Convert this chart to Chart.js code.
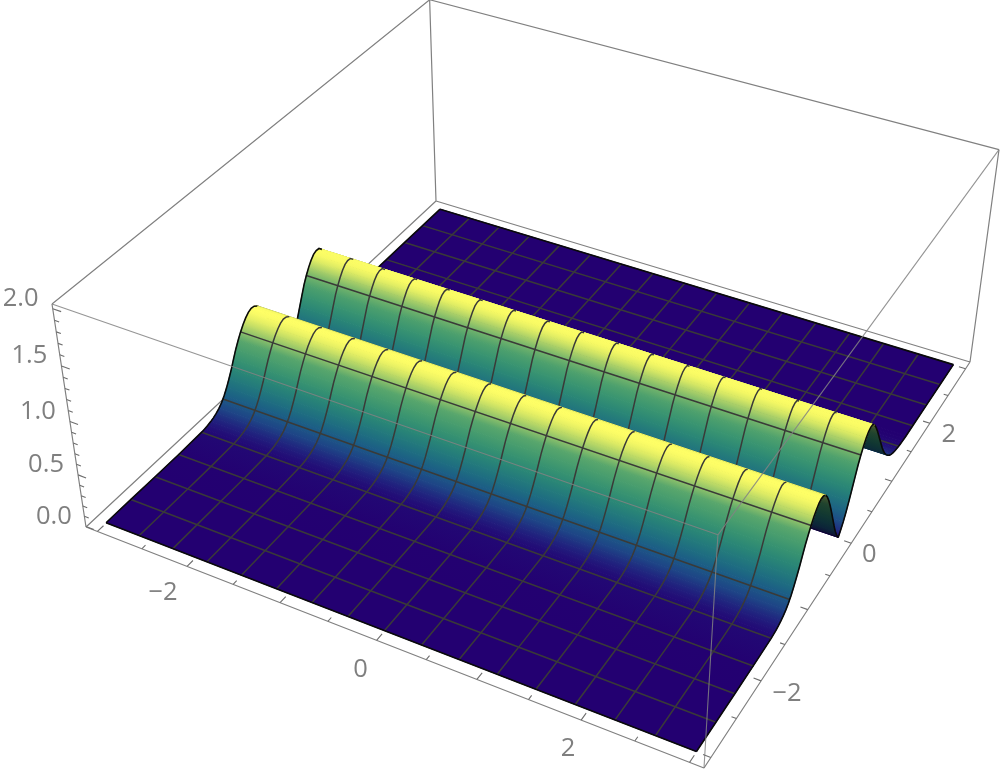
<!DOCTYPE html>
<html>
<head>
<meta charset="utf-8">
<script src="https://cdn.jsdelivr.net/npm/chart.js@4"></script>
<style>
html, body { margin: 0; padding: 0; background: #fff; }
canvas { display: block; }
</style>
</head>
<body>
<canvas id="myChart" width="1000" height="770"></canvas>
<script>
// surface profile: height for each y, the same along x
const profileY = [
  -3,-2.625,-2.25,-1.875,-1.5,-1.45,-1.4,-1.35,-1.3,-1.25,
  -1.2,-1.15,-1.125,-1.1,-1.05,-1,-0.95,-0.9,-0.85,-0.8,
  -0.75,-0.7,-0.65,-0.6,-0.55,-0.5,-0.45,-0.4,-0.35,-0.3,
  -0.25,-0.2,-0.15,-0.1,-0.05,0,0.05,0.1,0.15,0.2,
  0.25,0.3,0.35,0.4,0.45,0.5,0.55,0.6,0.65,0.7,
  0.75,0.8,0.85,0.9,0.95,1,1.05,1.1,1.15,1.2,
  1.25,1.3,1.35,1.4,1.45,1.5,1.55,1.6,1.65,1.7,
  1.875,2.25,2.625,3
];
const profileZ = [
  0,0,0,0.001,0.0075,0.011,0.017,0.026,0.038,0.055,
  0.077,0.108,0.129,0.15,0.202,0.263,0.329,0.404,0.475,0.536,
  0.592,0.639,0.677,0.705,0.719,0.714,0.691,0.644,0.578,0.498,
  0.409,0.315,0.221,0.132,0.061,0.008,0.052,0.103,0.169,0.244,
  0.329,0.414,0.498,0.564,0.62,0.667,0.7,0.714,0.71,0.677,
  0.625,0.564,0.494,0.423,0.353,0.282,0.221,0.169,0.127,0.094,
  0.066,0.047,0.033,0.023,0.015,0.009,0.006,0.003,0.001,0,
  0,0,0,0
];

// mesh lines
const xMesh = [-2.625,-2.25,-1.875,-1.5,-1.125,-0.75,-0.375,0,0.375,0.75,1.125,1.5,1.875,2.25,2.625];
const yMesh = [-2.625,-2.25,-1.875,-1.5,-1.125,-0.75,0.4,1.5,1.875,2.25,2.625];
const xEnds = [-3, 3];
const yEnds = [-3, 3];

// ticks
const xTicks = [-3,-2.5,-2,-1.5,-1,-0.5,0,0.5,1,1.5,2,2.5,3];
const yTicks = [-3,-2.5,-2,-1.5,-1,-0.5,0,0.5,1,1.5,2,2.5,3];
const zTicks = [0,0.1,0.2,0.3,0.4,0.5,0.6,0.7,0.8,0.9,1,1.1,1.2,1.3,1.4,1.5,1.6,1.7,1.8,1.9,2];
const xLabels = [-2, 0, 2];
const yLabels = [-2, 0, 2];
const zLabels = [0, 0.5, 1, 1.5, 2];

// box limits
const xBox = [-3.13, 3.13];
const yBox = [-3.13, 3.13];
const zBox = [-0.005, 2.04];

// where the box corners land in the picture, used to fit the camera
const anchors = {
  floor: [[86, 527], [704, 768], [970, 362], [436, 201]],
  topA: [52, 304],
  topC: [999, 152]
};

// label nudges in pixels from the tick
const xLabelShift = [[-24, 26], [-16, 29], [-13, 29]];
const yLabelShift = [[26, 13], [18, 12], [19, 12]];
const zLabelShift = [-32, -10];

const colorStops = [
  [0, [35, 0, 113]],
  [0.04, [33, 30, 125]],
  [0.1, [30, 66, 134]],
  [0.18, [28, 88, 134]],
  [0.3, [30, 112, 128]],
  [0.5, [45, 140, 115]],
  [0.74, [85, 165, 108]],
  [0.85, [160, 202, 105]],
  [0.92, [215, 232, 100]],
  [0.97, [245, 248, 100]],
  [1, [255, 255, 102]]
];
const zTop = 0.72;

// camera: floor homography plus a column for height
function fitCamera() {
  const [A, B, C, D] = anchors.floor;
  const dx1 = B[0] - C[0], dx2 = D[0] - C[0], sx = A[0] - B[0] + C[0] - D[0];
  const dy1 = B[1] - C[1], dy2 = D[1] - C[1], sy = A[1] - B[1] + C[1] - D[1];
  const den = dx1 * dy2 - dx2 * dy1;
  const g = (sx * dy2 - dx2 * sy) / den;
  const h = (dx1 * sy - sx * dy1) / den;
  const cu = [B[0] - A[0] + g * B[0], B[1] - A[1] + g * B[1], g];
  const cv = [D[0] - A[0] + h * D[0], D[1] - A[1] + h * D[1], h];
  const c0 = [A[0], A[1], 1];
  const E = anchors.topA, G = anchors.topC;
  const s = ((g + h) * G[0] - cu[0] - cv[0]) / (E[0] - G[0]);
  const cw = [s * E[0] - c0[0], s * E[1] - c0[1], s - 1];
  return { cu, cv, cw, c0 };
}
const cam = fitCamera();

function project(x, y, z) {
  const u = (x - xBox[0]) / (xBox[1] - xBox[0]);
  const v = (y - yBox[0]) / (yBox[1] - yBox[0]);
  const w = (z - zBox[0]) / (zBox[1] - zBox[0]);
  const p = [0, 1, 2].map(i => cam.cu[i] * u + cam.cv[i] * v + cam.cw[i] * w + cam.c0[i]);
  return { x: p[0] / p[2], y: p[1] / p[2] };
}

function colorFor(z, shade) {
  const t = Math.max(0, Math.min(1, z / zTop));
  let i = 0;
  while (i < colorStops.length - 2 && t > colorStops[i + 1][0]) i++;
  const a = colorStops[i], b = colorStops[i + 1];
  const f = (t - a[0]) / (b[0] - a[0]);
  const c = a[1].map((v, k) => Math.round((v + (b[1][k] - v) * f) * shade));
  return 'rgb(' + c.join(',') + ')';
}

const GAP = { x: NaN, y: NaN };
const canvas = document.getElementById('myChart');
const ctx2d = canvas.getContext('2d');

function lineSet(points, color, width) {
  return {
    data: points, showLine: true, borderColor: color, borderWidth: width,
    pointRadius: 0, fill: false, tension: 0, spanGaps: false
  };
}

function segments(list) {
  const out = [];
  list.forEach(s => { out.push(project(...s[0]), project(...s[1]), GAP); });
  return out;
}

function signedArea(q) {
  let a = 0;
  for (let i = 0; i < q.length; i++) {
    const n = q[(i + 1) % q.length];
    a += q[i].x * n.y - n.x * q[i].y;
  }
  return a;
}

function stripQuad(j, flat) {
  const z0 = flat ? 0 : profileZ[j], z1 = flat ? 0 : profileZ[j + 1];
  return [
    project(xEnds[0], profileY[j], z0), project(xEnds[1], profileY[j], z0),
    project(xEnds[1], profileY[j + 1], z1), project(xEnds[0], profileY[j + 1], z1)
  ];
}

// gradient across a strip so the colour runs smoothly from one side to the other
function stripPaint(j, q, shade) {
  const m0 = { x: (q[0].x + q[1].x) / 2, y: (q[0].y + q[1].y) / 2 };
  const m1 = { x: (q[2].x + q[3].x) / 2, y: (q[2].y + q[3].y) / 2 };
  const ex = q[1].x - q[0].x, ey = q[1].y - q[0].y, el = Math.hypot(ex, ey);
  const nx = -ey / el, ny = ex / el;
  const d = (m1.x - m0.x) * nx + (m1.y - m0.y) * ny;
  if (Math.abs(d) < 0.01) return colorFor(profileZ[j], shade);
  const g = ctx2d.createLinearGradient(m0.x, m0.y, m0.x + nx * d, m0.y + ny * d);
  g.addColorStop(0, colorFor(profileZ[j], shade));
  g.addColorStop(1, colorFor(profileZ[j + 1], shade));
  return g;
}

// strips facing the same way, far y first
const sections = [];
for (let j = profileY.length - 2; j >= 0; j--) {
  const facing = signedArea(stripQuad(j, false)) * signedArea(stripQuad(j, true)) > 0;
  const last = sections[sections.length - 1];
  if (last && last.facing === facing) last.strips.push(j);
  else sections.push({ facing, strips: [j] });
}

// paint order, first is at the back
const paint = [];

// box edges behind the surface
paint.push(lineSet(segments([
  [[xBox[0], yBox[1], zBox[0]], [xBox[1], yBox[1], zBox[0]]],
  [[xBox[0], yBox[1], zBox[0]], [xBox[0], yBox[0], zBox[0]]],
  [[xBox[0], yBox[1], zBox[0]], [xBox[0], yBox[1], zBox[1]]],
  [[xBox[0], yBox[1], zBox[1]], [xBox[1], yBox[1], zBox[1]]],
  [[xBox[0], yBox[1], zBox[1]], [xBox[0], yBox[0], zBox[1]]],
  [[xBox[1], yBox[1], zBox[0]], [xBox[1], yBox[1], zBox[1]]],
  [[xBox[0], yBox[0], zBox[0]], [xBox[0], yBox[0], zBox[1]]],
  [[xBox[0], yBox[0], zBox[0]], [xBox[1], yBox[0], zBox[0]]],
  [[xBox[1], yBox[0], zBox[0]], [xBox[1], yBox[1], zBox[0]]]
]), '#808080', 1.2));

sections.forEach(sec => {
  const shade = sec.facing ? 1 : 0.42;
  sec.strips.forEach(j => {
    const q = stripQuad(j, false);
    const p = stripPaint(j, q, shade);
    const fillSet = lineSet([...q, q[0]], p, 1);
    fillSet.fill = 'shape';
    fillSet.backgroundColor = p;
    paint.push(fillSet);
  });
  const hi = sec.strips[0] + 1, lo = sec.strips[sec.strips.length - 1];
  const along = x => {
    const pts = [];
    for (let k = hi; k >= lo; k--) pts.push(project(x, profileY[k], profileZ[k]));
    return pts;
  };
  const across = y => {
    const z = profileZ[profileY.indexOf(y)];
    return [project(xEnds[0], y, z), project(xEnds[1], y, z)];
  };
  if (sec.facing) {
    xMesh.forEach(x => paint.push(lineSet(along(x), '#3a3a38', 1.5)));
    yMesh.forEach(y => {
      const k = profileY.indexOf(y);
      if (k >= lo && k <= hi) paint.push(lineSet(across(y), '#3a3a38', 1.5));
    });
  }
  xEnds.forEach(x => paint.push(lineSet(along(x), '#0a0a0a', 1.6)));
  yEnds.forEach(y => {
    const k = profileY.indexOf(y);
    if (k >= lo && k <= hi) paint.push(lineSet(across(y), '#0a0a0a', 1.6));
  });
});

// box edges in front of the surface
paint.push(lineSet(segments([
  [[xBox[1], yBox[0], zBox[0]], [xBox[1], yBox[0], zBox[1]]],
  [[xBox[0], yBox[0], zBox[1]], [xBox[1], yBox[0], zBox[1]]],
  [[xBox[1], yBox[1], zBox[1]], [xBox[1], yBox[0], zBox[1]]]
]), 'rgba(130,130,130,0.85)', 1.1));

// tick marks
function isMajor(v, step) { return Math.abs(v / step - Math.round(v / step)) < 1e-6; }
paint.push(lineSet(segments(xTicks.map(v => {
  const len = isMajor(v, 1) ? 0.09 : 0.055;
  return [[v, yBox[0], zBox[0]], [v, yBox[0] + len, zBox[0]]];
})), '#6e6e6e', 1.1));
paint.push(lineSet(segments(yTicks.map(v => {
  const len = isMajor(v, 1) ? 0.07 : 0.045;
  return [[xBox[1], v, zBox[0]], [xBox[1] - len, v, zBox[0]]];
})), '#6e6e6e', 1.1));
paint.push(lineSet(segments(zTicks.map(v => {
  const len = isMajor(v, 0.5) ? 0.09 : 0.05;
  return [[xBox[0], yBox[0], v], [xBox[0] + len, yBox[0], v]];
})), '#6e6e6e', 1.1));

const tickText = {
  id: 'tickText',
  afterDraw(chart) {
    const { ctx, scales } = chart;
    ctx.save();
    ctx.font = '25.5px "Open Sans"';
    ctx.fillStyle = '#7f7f7f';
    ctx.textAlign = 'center';
    ctx.textBaseline = 'middle';
    const put = (text, p, s) => {
      ctx.fillText(text, scales.x.getPixelForValue(p.x) + s[0], scales.y.getPixelForValue(p.y) + s[1]);
    };
    const minus = v => String(v).replace('-', '\u2212');
    xLabels.forEach((v, i) => put(minus(v), project(v, yBox[0], zBox[0]), xLabelShift[i]));
    yLabels.forEach((v, i) => put(minus(v), project(xBox[1], v, zBox[0]), yLabelShift[i]));
    zLabels.forEach(v => put(v.toFixed(1), project(xBox[0], yBox[0], v), zLabelShift));
    ctx.restore();
  }
};

new Chart(canvas, {
  type: 'scatter',
  data: { datasets: paint.reverse() },
  plugins: [tickText],
  options: {
    responsive: false,
    animation: false,
    events: [],
    layout: { padding: 0 },
    plugins: { legend: { display: false }, tooltip: { enabled: false }, filler: { propagate: false } },
    scales: {
      x: { type: 'linear', display: false, min: 0, max: 1000 },
      y: { type: 'linear', display: false, min: 0, max: 770, reverse: true }
    }
  }
});
</script>
</body>
</html>
